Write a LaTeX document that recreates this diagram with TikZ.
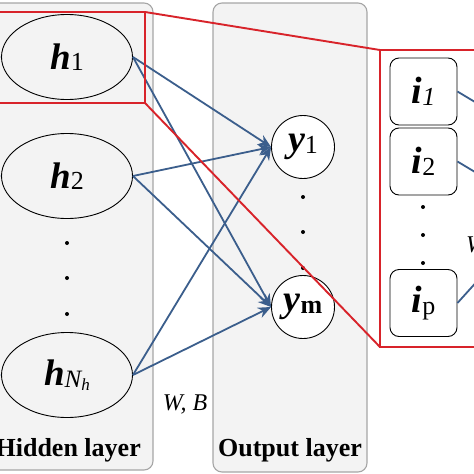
\documentclass[tikz,border=0pt]{standalone}
\usepackage{fontspec}
\setmainfont{Liberation Serif}
\usetikzlibrary{arrows.meta,shapes.geometric}
\definecolor{panelgray}{HTML}{F3F3F3}
\definecolor{panelline}{HTML}{A6A6A6}
\definecolor{linkblue}{HTML}{3B5E8C}
\definecolor{zoomred}{HTML}{D8232A}
\newcommand\lbl[3]{{\fontsize{#3}{#3}\selectfont\bfseries\itshape #1}\raisebox{-0.3ex}{\fontsize{26}{26}\selectfont #2}}
\begin{document}
\begin{tikzpicture}[x=1pt,y=-1pt,
  panel/.style={draw=panelline,fill=panelgray,line width=1.1pt,rounded corners=9pt},
  hnode/.style={draw=black,ellipse,fill=panelgray,line width=0.9pt,minimum width=131pt,minimum height=85pt,inner sep=0pt},
  ynode/.style={draw=black,circle,fill=white,line width=0.9pt,minimum size=63pt,inner sep=0pt},
  inode/.style={draw=black,fill=white,rounded corners=9pt,line width=0.9pt,minimum width=67pt,minimum height=67pt,inner sep=0pt},
  link/.style={draw=linkblue,line width=1.8pt,-{Stealth[length=13pt,width=11pt]}},
  plainlink/.style={draw=linkblue,line width=1.8pt},
  zoomline/.style={draw=zoomred,line width=1.9pt},
  dotmark/.style={circle,fill=black,inner sep=0pt,minimum size=4pt},
  layertitle/.style={font=\fontsize{26}{26}\selectfont\bfseries,inner sep=0pt}]
\useasboundingbox (0,0) rectangle (474,474);
\clip (0,0) rectangle (474,474);
\fill[white] (0,0) rectangle (474,474);
% panels
\draw[panel] (-20,3) rectangle (153,470);
\draw[panel] (213,3) rectangle (367,472);
% hidden nodes
\node[hnode] (h1) at (67,57) {\lbl{h}{1}{37}};
\node[hnode] (h2) at (67,176) {\lbl{h}{2}{37}};
\node[hnode] (hn) at (67,375) {{\fontsize{37}{37}\selectfont\bfseries\itshape h}\raisebox{-0.4ex}{\fontsize{25}{25}\selectfont\itshape N\raisebox{-0.3ex}{\fontsize{17}{17}\selectfont h}}};
\node[dotmark] (hd1) at (67,243) {};
\node[dotmark] (hd2) at (67,278) {};
\node[dotmark] (hd3) at (67,314) {};
% incoming arrows (cut off)
\coordinate (in1) at (-40,57);
\coordinate (in2) at (-40,176);
\coordinate (in3) at (-40,375);
\draw[link] (in1) -- (h1.west);
\draw[link] (in2) -- (h2.west);
\draw[link] (in3) -- (hn.west);
% output nodes
\node[ynode] (y1) at (303,147) {\lbl{y}{1}{38}};
\node[ynode] (ym) at (303,307) {\lbl{y}{\bfseries m}{38}};
\node[dotmark] (yd1) at (303,197) {};
\node[dotmark] (yd2) at (303,232) {};
\node[dotmark] (yd3) at (303,268) {};
% links
\draw[link] (h1.east) -- (y1.west);
\draw[link] (h1.east) -- (ym.west);
\draw[link] (h2.east) -- (y1.west);
\draw[link] (h2.east) -- (ym.west);
\draw[link] (hn.east) -- (y1.west);
\draw[link] (hn.east) -- (ym.west);
% labels
\node[font=\fontsize{24}{24}\selectfont\itshape] (wb) at (185,404) {W, B};
\node[layertitle,anchor=east] (hl) at (141,450) {Hidden layer};
\node[layertitle] (ol) at (290,450) {Output layer};
% zoom inset
\node[inode] (i1) at (423.5,91.5) {\lbl{i}{\itshape 1}{38}};
\node[inode] (i2) at (423.5,161.5) {\lbl{i}{2}{38}};
\node[inode] (ip) at (423.5,303) {\lbl{i}{p}{38}};
\node[dotmark] (id1) at (423,207) {};
\node[dotmark] (id2) at (423,235) {};
\node[dotmark] (id3) at (423,263) {};
\coordinate (o1) at (490,111);
\coordinate (o2) at (490,181);
\coordinate (op) at (490,267);
\draw[plainlink] (i1.east) -- (o1);
\draw[plainlink] (i2.east) -- (o2);
\draw[plainlink] (ip.east) -- (op);
\node[font=\fontsize{24}{24}\selectfont\itshape,anchor=west,inner sep=0pt] (wr) at (466,245) {W};
% red zoom frame
\coordinate (za) at (-20,12);
\coordinate (zb) at (145,12);
\coordinate (zc) at (145,103);
\coordinate (zd) at (-20,103);
\coordinate (zA) at (380,50);
\coordinate (zB) at (500,50);
\coordinate (zC) at (500,347);
\coordinate (zD) at (380,347);
\draw[zoomline] (za) -- (zb) -- (zc) -- (zd);
\draw[zoomline] (zB) -- (zA) -- (zD) -- (zC);
\draw[zoomline] (zb) -- (zA);
\draw[zoomline] (zc) -- (zD);
\end{tikzpicture}
\end{document}
